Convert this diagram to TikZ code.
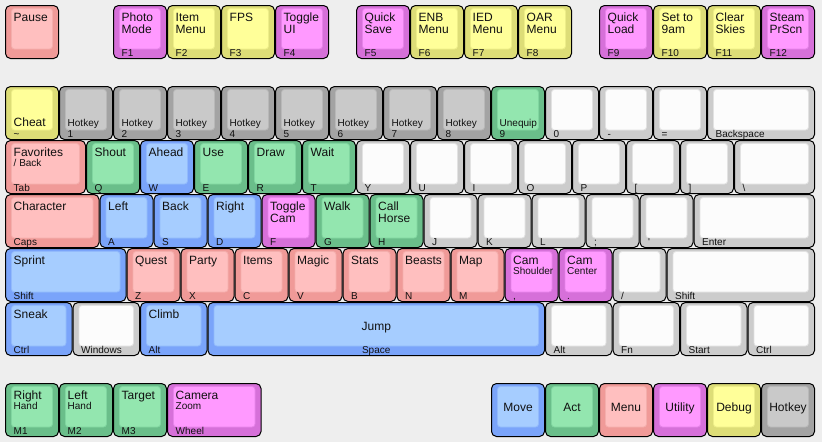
\documentclass[tikz,border=0pt]{standalone}
\usepackage{fontspec}
\setmainfont{Liberation Sans}
\definecolor{bg}{HTML}{EEEEEE}
\definecolor{txt}{HTML}{111111}
\definecolor{kredO}{HTML}{F09A98}\definecolor{kredI}{HTML}{FFBFBF}\definecolor{kredL}{HTML}{F4AEAC}
\definecolor{kpurO}{HTML}{D670D9}\definecolor{kpurI}{HTML}{FF99FF}\definecolor{kpurL}{HTML}{E683E9}
\definecolor{kyelO}{HTML}{DDDD77}\definecolor{kyelI}{HTML}{FFFF99}\definecolor{kyelL}{HTML}{EEEE88}
\definecolor{kgrnO}{HTML}{6ABE8A}\definecolor{kgrnI}{HTML}{93E6AF}\definecolor{kgrnL}{HTML}{80D6A0}
\definecolor{kbluO}{HTML}{7AA4FA}\definecolor{kbluI}{HTML}{A6CDFF}\definecolor{kbluL}{HTML}{92BAFC}
\definecolor{kgryO}{HTML}{A3A3A3}\definecolor{kgryI}{HTML}{C9C9C9}\definecolor{kgryL}{HTML}{B8B8B8}
\definecolor{kblkO}{HTML}{CCCCCC}\definecolor{kblkI}{HTML}{FCFCFC}\definecolor{kblkL}{HTML}{E2E2E2}
\tikzset{
  keyout/.style={draw=black, line width=1pt, rounded corners=5pt},
  keyin/.style={line width=0.8pt, rounded corners=3pt},
  lbl/.style={anchor=base west, inner sep=0pt, font=\fontsize{12}{12}\selectfont, text=txt},
  sml/.style={anchor=base west, inner sep=0pt, font=\fontsize{10}{10}\selectfont, text=txt},
  clbl/.style={anchor=base, inner sep=0pt, font=\fontsize{12}{12}\selectfont, text=txt},
  csml/.style={anchor=base, inner sep=0pt, font=\fontsize{10}{10}\selectfont, text=txt},
}
\newcommand\smf{\fontsize{10}{10}\selectfont}
\newcommand\subl[1]{\smf\raisebox{2pt}{#1}}
% cap: col, Y, width(units), colour
\newcommand\kcap[4]{%
  \pgfmathsetmacro\kx{5+54*#1}%
  \pgfmathsetmacro\kr{5+54*(#1+#3)}%
  \pgfmathsetmacro\kmid{(\kx+\kr)/2}%
  \pgfmathsetmacro\ky{#2}%
  \draw[keyout,fill=#4O] (\kx+0.5,\ky+0.5) rectangle (\kr-0.5,\ky+53.5);
  \draw[keyin,fill=#4I,draw=#4L] (\kx+6.5,\ky+3.5) rectangle (\kr-6.5,\ky+44);
}
% name col Y w clr line1 line2 front
\newcommand\kk[8]{%
  \kcap{#2}{#3}{#4}{#5}
  \node[lbl] (#1) at (\kx+8.5,\ky+16) {#6};
  \node[lbl] (#1-b) at (\kx+8.5,\ky+28) {#7};
  \node[sml] (#1-f) at (\kx+8.5,\ky+51.5) {#8};
}
% low label: name col Y w clr label front
\newcommand\kl[7]{%
  \kcap{#2}{#3}{#4}{#5}
  \node[lbl] (#1) at (\kx+8.5,\ky+40) {#6};
  \node[sml] (#1-f) at (\kx+8.5,\ky+51.5) {#7};
}
% centred: name col Y w clr label front
\newcommand\kc[7]{%
  \kcap{#2}{#3}{#4}{#5}
  \node[clbl] (#1) at (\kmid,\ky+28) {#6};
  \node[csml] (#1-f) at (\kmid,\ky+51.5) {#7};
}
\begin{document}
\begin{tikzpicture}[x=1pt,y=-1pt]
\fill[bg] (0,0) rectangle (822,442);
\useasboundingbox (0,0) rectangle (822,442);
% function row
\kk{pause}{0}{5}{1}{kred}{Pause}{}{}
\kk{f1}{2}{5}{1}{kpur}{Photo}{Mode}{F1}
\kk{f2}{3}{5}{1}{kyel}{Item}{Menu}{F2}
\kk{f3}{4}{5}{1}{kyel}{FPS}{}{F3}
\kk{f4}{5}{5}{1}{kpur}{Toggle}{UI}{F4}
\kk{f5}{6.5}{5}{1}{kpur}{Quick}{Save}{F5}
\kk{f6}{7.5}{5}{1}{kyel}{ENB}{Menu}{F6}
\kk{f7}{8.5}{5}{1}{kyel}{IED}{Menu}{F7}
\kk{f8}{9.5}{5}{1}{kyel}{OAR}{Menu}{F8}
\kk{f9}{11}{5}{1}{kpur}{Quick}{Load}{F9}
\kk{f10}{12}{5}{1}{kyel}{Set to}{9am}{F10}
\kk{f11}{13}{5}{1}{kyel}{Clear}{Skies}{F11}
\kk{f12}{14}{5}{1}{kpur}{Steam}{PrScn}{F12}
% number row
\kl{tilde}{0}{86}{1}{kyel}{Cheat}{\textasciitilde}
\kl{n1}{1}{86}{1}{kgry}{\smf Hotkey}{1}
\kl{n2}{2}{86}{1}{kgry}{\smf Hotkey}{2}
\kl{n3}{3}{86}{1}{kgry}{\smf Hotkey}{3}
\kl{n4}{4}{86}{1}{kgry}{\smf Hotkey}{4}
\kl{n5}{5}{86}{1}{kgry}{\smf Hotkey}{5}
\kl{n6}{6}{86}{1}{kgry}{\smf Hotkey}{6}
\kl{n7}{7}{86}{1}{kgry}{\smf Hotkey}{7}
\kl{n8}{8}{86}{1}{kgry}{\smf Hotkey}{8}
\kl{n9}{9}{86}{1}{kgrn}{\smf Unequip}{9}
\kk{n0}{10}{86}{1}{kblk}{}{}{0}
\kk{minus}{11}{86}{1}{kblk}{}{}{-}
\kk{equal}{12}{86}{1}{kblk}{}{}{=}
\kk{bksp}{13}{86}{2}{kblk}{}{}{Backspace}
% tab row
\kk{tab}{0}{140}{1.5}{kred}{Favorites}{\subl{/ Back}}{Tab}
\kk{q}{1.5}{140}{1}{kgrn}{Shout}{}{Q}
\kk{w}{2.5}{140}{1}{kblu}{Ahead}{}{W}
\kk{e}{3.5}{140}{1}{kgrn}{Use}{}{E}
\kk{r}{4.5}{140}{1}{kgrn}{Draw}{}{R}
\kk{t}{5.5}{140}{1}{kgrn}{Wait}{}{T}
\kk{y}{6.5}{140}{1}{kblk}{}{}{Y}
\kk{u}{7.5}{140}{1}{kblk}{}{}{U}
\kk{i}{8.5}{140}{1}{kblk}{}{}{I}
\kk{o}{9.5}{140}{1}{kblk}{}{}{O}
\kk{p}{10.5}{140}{1}{kblk}{}{}{P}
\kk{lbr}{11.5}{140}{1}{kblk}{}{}{[}
\kk{rbr}{12.5}{140}{1}{kblk}{}{}{]}
\kk{bsl}{13.5}{140}{1.5}{kblk}{}{}{\textbackslash}
% caps row
\kk{caps}{0}{194}{1.75}{kred}{Character}{}{Caps}
\kk{a}{1.75}{194}{1}{kblu}{Left}{}{A}
\kk{s}{2.75}{194}{1}{kblu}{Back}{}{S}
\kk{d}{3.75}{194}{1}{kblu}{Right}{}{D}
\kk{f}{4.75}{194}{1}{kpur}{Toggle}{Cam}{F}
\kk{g}{5.75}{194}{1}{kgrn}{Walk}{}{G}
\kk{h}{6.75}{194}{1}{kgrn}{Call}{Horse}{H}
\kk{j}{7.75}{194}{1}{kblk}{}{}{J}
\kk{k}{8.75}{194}{1}{kblk}{}{}{K}
\kk{l}{9.75}{194}{1}{kblk}{}{}{L}
\kk{semi}{10.75}{194}{1}{kblk}{}{}{;}
\kk{quote}{11.75}{194}{1}{kblk}{}{}{\textquotesingle}
\kk{enter}{12.75}{194}{2.25}{kblk}{}{}{Enter}
% shift row
\kk{lshift}{0}{248}{2.25}{kblu}{Sprint}{}{Shift}
\kk{z}{2.25}{248}{1}{kred}{Quest}{}{Z}
\kk{x}{3.25}{248}{1}{kred}{Party}{}{X}
\kk{c}{4.25}{248}{1}{kred}{Items}{}{C}
\kk{v}{5.25}{248}{1}{kred}{Magic}{}{V}
\kk{b}{6.25}{248}{1}{kred}{Stats}{}{B}
\kk{nk}{7.25}{248}{1}{kred}{Beasts}{}{N}
\kk{m}{8.25}{248}{1}{kred}{Map}{}{M}
\kk{comma}{9.25}{248}{1}{kpur}{Cam}{\subl{Shoulder}}{,}
\kk{period}{10.25}{248}{1}{kpur}{Cam}{\subl{Center}}{.}
\kk{slash}{11.25}{248}{1}{kblk}{}{}{/}
\kk{rshift}{12.25}{248}{2.75}{kblk}{}{}{Shift}
% bottom row
\kk{lctrl}{0}{302}{1.25}{kblu}{Sneak}{}{Ctrl}
\kk{win}{1.25}{302}{1.25}{kblk}{}{}{Windows}
\kk{lalt}{2.5}{302}{1.25}{kblu}{Climb}{}{Alt}
\kc{space}{3.75}{302}{6.25}{kblu}{Jump}{Space}
\kk{ralt}{10}{302}{1.25}{kblk}{}{}{Alt}
\kk{fn}{11.25}{302}{1.25}{kblk}{}{}{Fn}
\kk{start}{12.5}{302}{1.25}{kblk}{}{}{Start}
\kk{rctrl}{13.75}{302}{1.25}{kblk}{}{}{Ctrl}
% mouse
\kk{m1}{0}{383}{1}{kgrn}{Right}{\subl{Hand}}{M1}
\kk{m2}{1}{383}{1}{kgrn}{Left}{\subl{Hand}}{M2}
\kk{m3}{2}{383}{1}{kgrn}{Target}{}{M3}
\kk{wheel}{3}{383}{1.75}{kpur}{Camera}{\subl{Zoom}}{Wheel}
% legend
\kc{lgmove}{9}{383}{1}{kblu}{Move}{}
\kc{lgact}{10}{383}{1}{kgrn}{Act}{}
\kc{lgmenu}{11}{383}{1}{kred}{Menu}{}
\kc{lgutil}{12}{383}{1}{kpur}{Utility}{}
\kc{lgdebug}{13}{383}{1}{kyel}{Debug}{}
\kc{lghot}{14}{383}{1}{kgry}{Hotkey}{}
\end{tikzpicture}
\end{document}
